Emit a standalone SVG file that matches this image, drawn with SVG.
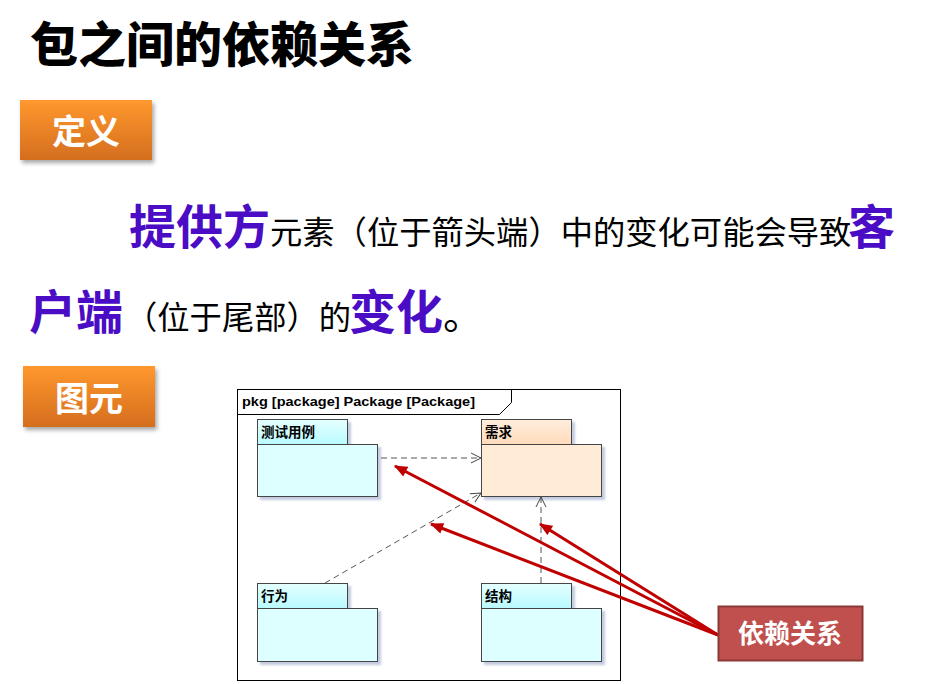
<svg xmlns="http://www.w3.org/2000/svg" width="927" height="684" viewBox="0 0 927 684">
<defs>
<linearGradient id="orange" x1="0" y1="0" x2="0" y2="1">
<stop offset="0" stop-color="#FF982E"/>
<stop offset="1" stop-color="#D46E1E"/>
</linearGradient>
<linearGradient id="cyanTab" x1="0" y1="0" x2="0" y2="1">
<stop offset="0" stop-color="#E6FFFF"/>
<stop offset="1" stop-color="#B8FAFF"/>
</linearGradient>
<linearGradient id="peachTab" x1="0" y1="0" x2="0" y2="1">
<stop offset="0" stop-color="#FFEEDD"/>
<stop offset="1" stop-color="#FFDABA"/>
</linearGradient>
<filter id="sh" x="-10%" y="-10%" width="130%" height="140%">
<feDropShadow dx="2" dy="3" stdDeviation="2" flood-color="#000" flood-opacity="0.35"/>
</filter>
<filter id="psh" x="-10%" y="-10%" width="130%" height="130%">
<feDropShadow dx="3" dy="3" stdDeviation="1" flood-color="#8896C0" flood-opacity="0.5"/>
</filter>
<marker id="open" viewBox="0 0 12 12" refX="11" refY="6" markerWidth="12" markerHeight="12" markerUnits="userSpaceOnUse" orient="auto">
<path d="M1,1 L11,6 L1,11" fill="none" stroke="#444" stroke-width="1"/>
</marker>
<marker id="red" viewBox="0 0 12 10" refX="11" refY="5" markerWidth="14" markerHeight="11" markerUnits="userSpaceOnUse" orient="auto">
<path d="M0,0 L12,5 L0,10 Z" fill="#C00000"/>
</marker>
</defs>
<style>
.cjk{font-family:"Noto Sans CJK SC","Noto Sans",sans-serif}
.b{font-weight:bold}
.purple{fill:#4A0CC4}
.pk{stroke:#444;stroke-width:1}
.plabel{font-family:"Noto Sans CJK SC","Noto Sans",sans-serif;font-weight:bold;font-size:13.5px;fill:#000}
.dash{fill:none;stroke:#555;stroke-width:1;stroke-dasharray:6,4}
.redl{fill:none;stroke:#C00000;stroke-width:3}
</style>

<g id="title">
<text class="cjk" x="30" y="62" font-size="48" font-weight="900" fill="#000">包之间的依赖关系</text>
</g>

<g id="btn-def">
<rect x="20" y="100" width="132" height="60" fill="url(#orange)" filter="url(#sh)"/>
<text class="cjk b" x="86" y="144" font-size="34" fill="#fff" text-anchor="middle">定义</text>
</g>

<g id="definition">
<text class="cjk" y="244"><tspan class="b purple" x="129" font-size="47">提供方</tspan><tspan x="270" font-size="32.3" fill="#000">元素（位于箭头端）中的变化可能会导致</tspan><tspan class="b purple" x="848" font-size="47">客</tspan></text>
<text class="cjk" y="329"><tspan class="b purple" x="29" font-size="47">户端</tspan><tspan x="125" font-size="32.3" fill="#000">（位于尾部）的</tspan><tspan class="b purple" x="349" font-size="47">变化</tspan><tspan x="443" font-size="40" fill="#000">。</tspan></text>
</g>

<g id="btn-elem">
<rect x="23" y="366" width="132" height="61" fill="url(#orange)" filter="url(#sh)"/>
<text class="cjk b" x="89" y="411" font-size="34" fill="#fff" text-anchor="middle">图元</text>
</g>

<g id="frame">
<rect x="237.5" y="389.5" width="383" height="291" fill="#fff" stroke="#000" stroke-width="1"/>
<path d="M237.5,414.5 L499.5,414.5 L511.5,402.5 L511.5,389.5" fill="none" stroke="#000" stroke-width="1"/>
<text x="242" y="406" font-family="Liberation Sans, Arial, sans-serif" font-weight="bold" font-size="13" textLength="233" lengthAdjust="spacingAndGlyphs" fill="#000">pkg [package] Package [Package]</text>
</g>

<g id="pkg-test">
<g filter="url(#psh)">
<rect x="257.5" y="419.5" width="90" height="25" fill="url(#cyanTab)" class="pk"/>
<rect x="257.5" y="444.5" width="120" height="52" fill="#DDFFFF" class="pk"/>
</g>
<text class="plabel" x="261" y="437">测试用例</text>
</g>

<g id="pkg-req">
<g filter="url(#psh)">
<rect x="481.5" y="419.5" width="90" height="25" fill="url(#peachTab)" class="pk"/>
<rect x="481.5" y="444.5" width="120" height="52" fill="#FFEBD6" class="pk"/>
</g>
<text class="plabel" x="485" y="437">需求</text>
</g>

<g id="pkg-behavior">
<g filter="url(#psh)">
<rect x="257.5" y="583.5" width="90" height="25" fill="url(#cyanTab)" class="pk"/>
<rect x="257.5" y="608.5" width="120" height="53" fill="#DDFFFF" class="pk"/>
</g>
<text class="plabel" x="261" y="601">行为</text>
</g>

<g id="pkg-struct">
<g filter="url(#psh)">
<rect x="481.5" y="583.5" width="90" height="25" fill="url(#cyanTab)" class="pk"/>
<rect x="481.5" y="608.5" width="120" height="53" fill="#DDFFFF" class="pk"/>
</g>
<text class="plabel" x="485" y="601">结构</text>
</g>

<g id="connectors">
<path class="dash" d="M381,458 L481,458" marker-end="url(#open)"/>
<path class="dash" d="M325,583 L481,493" marker-end="url(#open)"/>
<path class="dash" d="M541,583 L541,497" marker-end="url(#open)"/>
<path class="redl" d="M718,635 L395,466" marker-end="url(#red)"/>
<path class="redl" d="M718,635 L431,524" marker-end="url(#red)"/>
<path class="redl" d="M718,635 L540,524" marker-end="url(#red)"/>
</g>

<g id="label-dep">
<rect x="718.5" y="606.5" width="144" height="54" fill="#C0504D" stroke="#8C3836" stroke-width="2"/>
<text class="cjk b" x="790" y="643" font-size="26" fill="#fff" text-anchor="middle">依赖关系</text>
</g>
</svg>
